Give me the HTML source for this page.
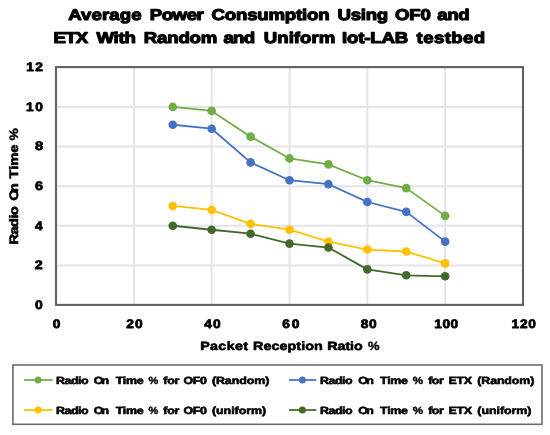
<!DOCTYPE html>
<html><head><meta charset="utf-8"><style>
html,body{margin:0;padding:0;background:#fff;width:550px;height:435px;overflow:hidden}
svg{display:block;will-change:transform}
text{font-family:"Liberation Sans",sans-serif;font-weight:bold;fill:#000;text-rendering:geometricPrecision}
</style></head><body>
<svg width="550" height="435" viewBox="0 0 550 435">
<rect width="550" height="435" fill="#fff"/>
<line x1="133.83" y1="67.1" x2="133.83" y2="304.9" stroke="#e2e4e9" stroke-width="2.0"/>
<line x1="211.67" y1="67.1" x2="211.67" y2="304.9" stroke="#e2e4e9" stroke-width="2.0"/>
<line x1="289.50" y1="67.1" x2="289.50" y2="304.9" stroke="#e2e4e9" stroke-width="2.0"/>
<line x1="367.33" y1="67.1" x2="367.33" y2="304.9" stroke="#e2e4e9" stroke-width="2.0"/>
<line x1="445.17" y1="67.1" x2="445.17" y2="304.9" stroke="#e2e4e9" stroke-width="2.0"/>
<line x1="56.0" y1="265.38" x2="523.0" y2="265.38" stroke="#e2e4e9" stroke-width="2.0"/>
<line x1="56.0" y1="225.77" x2="523.0" y2="225.77" stroke="#e2e4e9" stroke-width="2.0"/>
<line x1="56.0" y1="186.15" x2="523.0" y2="186.15" stroke="#e2e4e9" stroke-width="2.0"/>
<line x1="56.0" y1="146.53" x2="523.0" y2="146.53" stroke="#e2e4e9" stroke-width="2.0"/>
<line x1="56.0" y1="106.92" x2="523.0" y2="106.92" stroke="#e2e4e9" stroke-width="2.0"/>
<rect x="56.0" y="67.1" width="467.0" height="237.8" fill="none" stroke="#646161" stroke-width="2.1"/>
<polyline points="172.75,106.92 211.67,110.88 250.58,136.63 289.50,158.42 328.42,164.36 367.33,180.21 406.25,188.13 445.17,215.86" fill="none" stroke="#70ad47" stroke-width="1.8" stroke-linejoin="round"/>
<circle cx="172.75" cy="106.92" r="4.3" fill="#70ad47"/>
<circle cx="211.67" cy="110.88" r="4.3" fill="#70ad47"/>
<circle cx="250.58" cy="136.63" r="4.3" fill="#70ad47"/>
<circle cx="289.50" cy="158.42" r="4.3" fill="#70ad47"/>
<circle cx="328.42" cy="164.36" r="4.3" fill="#70ad47"/>
<circle cx="367.33" cy="180.21" r="4.3" fill="#70ad47"/>
<circle cx="406.25" cy="188.13" r="4.3" fill="#70ad47"/>
<circle cx="445.17" cy="215.86" r="4.3" fill="#70ad47"/>
<polyline points="172.75,124.74 211.67,128.71 250.58,162.38 289.50,180.21 328.42,184.17 367.33,202.00 406.25,211.90 445.17,241.61" fill="none" stroke="#4472c4" stroke-width="1.8" stroke-linejoin="round"/>
<circle cx="172.75" cy="124.74" r="4.3" fill="#4472c4"/>
<circle cx="211.67" cy="128.71" r="4.3" fill="#4472c4"/>
<circle cx="250.58" cy="162.38" r="4.3" fill="#4472c4"/>
<circle cx="289.50" cy="180.21" r="4.3" fill="#4472c4"/>
<circle cx="328.42" cy="184.17" r="4.3" fill="#4472c4"/>
<circle cx="367.33" cy="202.00" r="4.3" fill="#4472c4"/>
<circle cx="406.25" cy="211.90" r="4.3" fill="#4472c4"/>
<circle cx="445.17" cy="241.61" r="4.3" fill="#4472c4"/>
<polyline points="172.75,205.96 211.67,209.92 250.58,223.79 289.50,229.73 328.42,241.61 367.33,249.54 406.25,251.52 445.17,263.40" fill="none" stroke="#ffc000" stroke-width="1.8" stroke-linejoin="round"/>
<circle cx="172.75" cy="205.96" r="4.3" fill="#ffc000"/>
<circle cx="211.67" cy="209.92" r="4.3" fill="#ffc000"/>
<circle cx="250.58" cy="223.79" r="4.3" fill="#ffc000"/>
<circle cx="289.50" cy="229.73" r="4.3" fill="#ffc000"/>
<circle cx="328.42" cy="241.61" r="4.3" fill="#ffc000"/>
<circle cx="367.33" cy="249.54" r="4.3" fill="#ffc000"/>
<circle cx="406.25" cy="251.52" r="4.3" fill="#ffc000"/>
<circle cx="445.17" cy="263.40" r="4.3" fill="#ffc000"/>
<polyline points="172.75,225.77 211.67,229.73 250.58,233.69 289.50,243.59 328.42,247.56 367.33,269.35 406.25,275.29 445.17,276.28" fill="none" stroke="#43682b" stroke-width="1.8" stroke-linejoin="round"/>
<circle cx="172.75" cy="225.77" r="4.3" fill="#43682b"/>
<circle cx="211.67" cy="229.73" r="4.3" fill="#43682b"/>
<circle cx="250.58" cy="233.69" r="4.3" fill="#43682b"/>
<circle cx="289.50" cy="243.59" r="4.3" fill="#43682b"/>
<circle cx="328.42" cy="247.56" r="4.3" fill="#43682b"/>
<circle cx="367.33" cy="269.35" r="4.3" fill="#43682b"/>
<circle cx="406.25" cy="275.29" r="4.3" fill="#43682b"/>
<circle cx="445.17" cy="276.28" r="4.3" fill="#43682b"/>
<text id="y0" transform="translate(42.71,308.90) scale(1.12,1)" text-anchor="end" font-size="12.3" stroke="#000" stroke-width="0.75" stroke-linejoin="round" textLength="6.93" lengthAdjust="spacingAndGlyphs">0</text>
<text id="y2" transform="translate(42.65,269.28) scale(1.12,1)" text-anchor="end" font-size="12.3" stroke="#000" stroke-width="0.75" stroke-linejoin="round" textLength="7.11" lengthAdjust="spacingAndGlyphs">2</text>
<text id="y4" transform="translate(42.62,229.67) scale(1.12,1)" text-anchor="end" font-size="12.3" stroke="#000" stroke-width="0.75" stroke-linejoin="round" textLength="6.76" lengthAdjust="spacingAndGlyphs">4</text>
<text id="y6" transform="translate(42.96,190.05) scale(1.12,1)" text-anchor="end" font-size="12.3" stroke="#000" stroke-width="0.75" stroke-linejoin="round" textLength="7.16" lengthAdjust="spacingAndGlyphs">6</text>
<text id="y8" transform="translate(43.13,150.43) scale(1.12,1)" text-anchor="end" font-size="12.3" stroke="#000" stroke-width="0.75" stroke-linejoin="round" textLength="7.34" lengthAdjust="spacingAndGlyphs">8</text>
<text id="y10" transform="translate(42.81,110.82) scale(1.12,1)" text-anchor="end" font-size="12.3" stroke="#000" stroke-width="0.75" stroke-linejoin="round" textLength="14.95" lengthAdjust="spacing">10</text>
<text id="y12" transform="translate(43.00,71.20) scale(1.12,1)" text-anchor="end" font-size="12.3" stroke="#000" stroke-width="0.75" stroke-linejoin="round" textLength="14.91" lengthAdjust="spacing">12</text>
<text id="x0" transform="translate(56.61,328.30) scale(1.12,1)" text-anchor="middle" font-size="12.3" stroke="#000" stroke-width="0.75" stroke-linejoin="round" textLength="6.83" lengthAdjust="spacingAndGlyphs">0</text>
<text id="x20" transform="translate(134.37,328.30) scale(1.12,1)" text-anchor="middle" font-size="12.3" stroke="#000" stroke-width="0.75" stroke-linejoin="round" textLength="14.72" lengthAdjust="spacing">20</text>
<text id="x40" transform="translate(212.49,328.30) scale(1.12,1)" text-anchor="middle" font-size="12.3" stroke="#000" stroke-width="0.75" stroke-linejoin="round" textLength="14.64" lengthAdjust="spacing">40</text>
<text id="x60" transform="translate(290.78,328.30) scale(1.12,1)" text-anchor="middle" font-size="12.3" stroke="#000" stroke-width="0.75" stroke-linejoin="round" textLength="15.35" lengthAdjust="spacing">60</text>
<text id="x80" transform="translate(368.76,328.30) scale(1.12,1)" text-anchor="middle" font-size="12.3" stroke="#000" stroke-width="0.75" stroke-linejoin="round" textLength="14.14" lengthAdjust="spacing">80</text>
<text id="x100" transform="translate(446.31,328.30) scale(1.12,1)" text-anchor="middle" font-size="12.3" stroke="#000" stroke-width="0.75" stroke-linejoin="round" textLength="21.38" lengthAdjust="spacing">100</text>
<text id="x120" transform="translate(523.80,328.30) scale(1.12,1)" text-anchor="middle" font-size="12.3" stroke="#000" stroke-width="0.75" stroke-linejoin="round" textLength="21.78" lengthAdjust="spacing">120</text>
<text id="title1_0" transform="translate(68.21,20.30) scale(1.2,1)" text-anchor="start" font-size="15.5" stroke="#000" stroke-width="1.1" stroke-linejoin="round" textLength="61.08" lengthAdjust="spacing">Average</text>
<text id="title1_1" transform="translate(149.71,20.30) scale(1.2,1)" text-anchor="start" font-size="15.5" stroke="#000" stroke-width="1.1" stroke-linejoin="round" textLength="45.07" lengthAdjust="spacing">Power</text>
<text id="title1_2" transform="translate(211.55,20.30) scale(1.2,1)" text-anchor="start" font-size="15.5" stroke="#000" stroke-width="1.1" stroke-linejoin="round" textLength="98.34" lengthAdjust="spacing">Consumption</text>
<text id="title1_3" transform="translate(337.44,20.30) scale(1.2,1)" text-anchor="start" font-size="15.5" stroke="#000" stroke-width="1.1" stroke-linejoin="round" textLength="42.27" lengthAdjust="spacing">Using</text>
<text id="title1_4" transform="translate(395.01,20.30) scale(1.2,1)" text-anchor="start" font-size="15.5" stroke="#000" stroke-width="1.1" stroke-linejoin="round" textLength="29.78" lengthAdjust="spacing">OF0</text>
<text id="title1_5" transform="translate(437.16,20.30) scale(1.2,1)" text-anchor="start" font-size="15.5" stroke="#000" stroke-width="1.1" stroke-linejoin="round" textLength="27.05" lengthAdjust="spacing">and</text>
<text id="title2_0" transform="translate(53.39,43.00) scale(1.2,1)" text-anchor="start" font-size="15.5" stroke="#000" stroke-width="1.1" stroke-linejoin="round" textLength="29.07" lengthAdjust="spacing">ETX</text>
<text id="title2_1" transform="translate(96.39,43.00) scale(1.2,1)" text-anchor="start" font-size="15.5" stroke="#000" stroke-width="1.1" stroke-linejoin="round" textLength="32.92" lengthAdjust="spacing">With</text>
<text id="title2_2" transform="translate(143.73,43.00) scale(1.2,1)" text-anchor="start" font-size="15.5" stroke="#000" stroke-width="1.1" stroke-linejoin="round" textLength="61.37" lengthAdjust="spacing">Random</text>
<text id="title2_3" transform="translate(223.44,43.00) scale(1.2,1)" text-anchor="start" font-size="15.5" stroke="#000" stroke-width="1.1" stroke-linejoin="round" textLength="26.33" lengthAdjust="spacing">and</text>
<text id="title2_4" transform="translate(263.80,43.00) scale(1.2,1)" text-anchor="start" font-size="15.5" stroke="#000" stroke-width="1.1" stroke-linejoin="round" textLength="59.62" lengthAdjust="spacing">Uniform</text>
<text id="title2_5" transform="translate(342.00,43.00) scale(1.2,1)" text-anchor="start" font-size="15.5" stroke="#000" stroke-width="1.1" stroke-linejoin="round" textLength="55.15" lengthAdjust="spacing">Iot-LAB</text>
<text id="title2_6" transform="translate(416.62,43.00) scale(1.2,1)" text-anchor="start" font-size="15.5" stroke="#000" stroke-width="1.1" stroke-linejoin="round" textLength="57.09" lengthAdjust="spacing">testbed</text>
<text id="xtitle_0" transform="translate(200.17,349.90) scale(1.2,1)" text-anchor="start" font-size="11.95" stroke="#000" stroke-width="0.6" stroke-linejoin="round" textLength="39.89" lengthAdjust="spacing">Packet</text>
<text id="xtitle_1" transform="translate(253.06,349.90) scale(1.2,1)" text-anchor="start" font-size="11.95" stroke="#000" stroke-width="0.6" stroke-linejoin="round" textLength="58.15" lengthAdjust="spacing">Reception</text>
<text id="xtitle_2" transform="translate(327.31,349.90) scale(1.2,1)" text-anchor="start" font-size="11.95" stroke="#000" stroke-width="0.6" stroke-linejoin="round" textLength="29.51" lengthAdjust="spacing">Ratio</text>
<text id="xtitle_3" transform="translate(368.05,349.90) scale(1.2,1)" text-anchor="start" font-size="11.95" stroke="#000" stroke-width="0.4" stroke-linejoin="round" textLength="9.60" lengthAdjust="spacingAndGlyphs">%</text>
<text id="ytitle_0" transform="translate(17.70,244.38) rotate(-90) scale(1.2,1)" text-anchor="start" font-size="12.25" stroke="#000" stroke-width="0.6" stroke-linejoin="round" textLength="31.85" lengthAdjust="spacing">Radio</text>
<text id="ytitle_1" transform="translate(17.70,200.78) rotate(-90) scale(1.2,1)" text-anchor="start" font-size="12.25" stroke="#000" stroke-width="0.6" stroke-linejoin="round" textLength="14.52" lengthAdjust="spacing">On</text>
<text id="ytitle_2" transform="translate(17.70,178.44) rotate(-90) scale(1.2,1)" text-anchor="start" font-size="12.25" stroke="#000" stroke-width="0.6" stroke-linejoin="round" textLength="28.30" lengthAdjust="spacing">Time</text>
<text id="ytitle_3" transform="translate(17.70,140.53) rotate(-90) scale(1.2,1)" text-anchor="start" font-size="12.25" stroke="#000" stroke-width="0.4" stroke-linejoin="round" textLength="10.26" lengthAdjust="spacingAndGlyphs">%</text>
<text id="leg1_0" transform="translate(55.95,384.10) scale(1.2,1)" text-anchor="start" font-size="10.35" stroke="#000" stroke-width="0.6" stroke-linejoin="round" textLength="27.21" lengthAdjust="spacing">Radio</text>
<text id="leg1_1" transform="translate(93.75,384.10) scale(1.2,1)" text-anchor="start" font-size="10.35" stroke="#000" stroke-width="0.6" stroke-linejoin="round" textLength="12.86" lengthAdjust="spacing">On</text>
<text id="leg1_2" transform="translate(115.64,384.10) scale(1.2,1)" text-anchor="start" font-size="10.35" stroke="#000" stroke-width="0.6" stroke-linejoin="round" textLength="23.33" lengthAdjust="spacing">Time</text>
<text id="leg1_3" transform="translate(148.62,384.10) scale(1.2,1)" text-anchor="start" font-size="10.35" stroke="#000" stroke-width="0.4" stroke-linejoin="round" textLength="8.16" lengthAdjust="spacingAndGlyphs">%</text>
<text id="leg1_4" transform="translate(163.35,384.10) scale(1.2,1)" text-anchor="start" font-size="10.35" stroke="#000" stroke-width="0.6" stroke-linejoin="round" textLength="13.43" lengthAdjust="spacing">for</text>
<text id="leg1_5" transform="translate(183.60,384.10) scale(1.2,1)" text-anchor="start" font-size="10.35" stroke="#000" stroke-width="0.6" stroke-linejoin="round" textLength="19.47" lengthAdjust="spacing">OF0</text>
<text id="leg1_6" transform="translate(211.95,384.10) scale(1.2,1)" text-anchor="start" font-size="10.35" stroke="#000" stroke-width="0.6" stroke-linejoin="round" textLength="47.79" lengthAdjust="spacing">(Random)</text>
<text id="leg3_0" transform="translate(55.95,414.00) scale(1.2,1)" text-anchor="start" font-size="10.35" stroke="#000" stroke-width="0.6" stroke-linejoin="round" textLength="27.21" lengthAdjust="spacing">Radio</text>
<text id="leg3_1" transform="translate(93.75,414.00) scale(1.2,1)" text-anchor="start" font-size="10.35" stroke="#000" stroke-width="0.6" stroke-linejoin="round" textLength="12.86" lengthAdjust="spacing">On</text>
<text id="leg3_2" transform="translate(115.64,414.00) scale(1.2,1)" text-anchor="start" font-size="10.35" stroke="#000" stroke-width="0.6" stroke-linejoin="round" textLength="23.33" lengthAdjust="spacing">Time</text>
<text id="leg3_3" transform="translate(148.62,414.00) scale(1.2,1)" text-anchor="start" font-size="10.35" stroke="#000" stroke-width="0.4" stroke-linejoin="round" textLength="8.16" lengthAdjust="spacingAndGlyphs">%</text>
<text id="leg3_4" transform="translate(163.35,414.00) scale(1.2,1)" text-anchor="start" font-size="10.35" stroke="#000" stroke-width="0.6" stroke-linejoin="round" textLength="13.43" lengthAdjust="spacing">for</text>
<text id="leg3_5" transform="translate(183.60,414.00) scale(1.2,1)" text-anchor="start" font-size="10.35" stroke="#000" stroke-width="0.6" stroke-linejoin="round" textLength="19.47" lengthAdjust="spacing">OF0</text>
<text id="leg3_6" transform="translate(211.95,414.00) scale(1.2,1)" text-anchor="start" font-size="10.35" stroke="#000" stroke-width="0.6" stroke-linejoin="round" textLength="45.25" lengthAdjust="spacing">(uniform)</text>
<text id="leg2_0" transform="translate(320.06,384.10) scale(1.2,1)" text-anchor="start" font-size="10.35" stroke="#000" stroke-width="0.6" stroke-linejoin="round" textLength="27.13" lengthAdjust="spacing">Radio</text>
<text id="leg2_1" transform="translate(358.33,384.10) scale(1.2,1)" text-anchor="start" font-size="10.35" stroke="#000" stroke-width="0.6" stroke-linejoin="round" textLength="12.92" lengthAdjust="spacing">On</text>
<text id="leg2_2" transform="translate(380.12,384.10) scale(1.2,1)" text-anchor="start" font-size="10.35" stroke="#000" stroke-width="0.6" stroke-linejoin="round" textLength="23.18" lengthAdjust="spacing">Time</text>
<text id="leg2_3" transform="translate(412.83,384.10) scale(1.2,1)" text-anchor="start" font-size="10.35" stroke="#000" stroke-width="0.4" stroke-linejoin="round" textLength="8.64" lengthAdjust="spacingAndGlyphs">%</text>
<text id="leg2_4" transform="translate(428.13,384.10) scale(1.2,1)" text-anchor="start" font-size="10.35" stroke="#000" stroke-width="0.6" stroke-linejoin="round" textLength="13.09" lengthAdjust="spacing">for</text>
<text id="leg2_5" transform="translate(448.38,384.10) scale(1.2,1)" text-anchor="start" font-size="10.35" stroke="#000" stroke-width="0.6" stroke-linejoin="round" textLength="19.79" lengthAdjust="spacing">ETX</text>
<text id="leg2_6" transform="translate(477.36,384.10) scale(1.2,1)" text-anchor="start" font-size="10.35" stroke="#000" stroke-width="0.6" stroke-linejoin="round" textLength="47.44" lengthAdjust="spacing">(Random)</text>
<text id="leg4_0" transform="translate(320.06,414.00) scale(1.2,1)" text-anchor="start" font-size="10.35" stroke="#000" stroke-width="0.6" stroke-linejoin="round" textLength="27.13" lengthAdjust="spacing">Radio</text>
<text id="leg4_1" transform="translate(358.33,414.00) scale(1.2,1)" text-anchor="start" font-size="10.35" stroke="#000" stroke-width="0.6" stroke-linejoin="round" textLength="12.92" lengthAdjust="spacing">On</text>
<text id="leg4_2" transform="translate(380.12,414.00) scale(1.2,1)" text-anchor="start" font-size="10.35" stroke="#000" stroke-width="0.6" stroke-linejoin="round" textLength="23.18" lengthAdjust="spacing">Time</text>
<text id="leg4_3" transform="translate(412.83,414.00) scale(1.2,1)" text-anchor="start" font-size="10.35" stroke="#000" stroke-width="0.4" stroke-linejoin="round" textLength="8.64" lengthAdjust="spacingAndGlyphs">%</text>
<text id="leg4_4" transform="translate(428.13,414.00) scale(1.2,1)" text-anchor="start" font-size="10.35" stroke="#000" stroke-width="0.6" stroke-linejoin="round" textLength="13.09" lengthAdjust="spacing">for</text>
<text id="leg4_5" transform="translate(448.38,414.00) scale(1.2,1)" text-anchor="start" font-size="10.35" stroke="#000" stroke-width="0.6" stroke-linejoin="round" textLength="19.79" lengthAdjust="spacing">ETX</text>
<text id="leg4_6" transform="translate(477.36,414.00) scale(1.2,1)" text-anchor="start" font-size="10.35" stroke="#000" stroke-width="0.6" stroke-linejoin="round" textLength="45.06" lengthAdjust="spacing">(uniform)</text>
<rect x="12.9" y="365.0" width="529.1" height="59.3" fill="none" stroke="#6e6b6b" stroke-width="1.6"/>
<line x1="24" y1="380" x2="52.7" y2="380" stroke="#70ad47" stroke-width="1.75"/>
<circle cx="38.1" cy="380" r="3.5" fill="#70ad47"/>
<line x1="289" y1="380" x2="316.4" y2="380" stroke="#4472c4" stroke-width="1.75"/>
<circle cx="302.4" cy="380" r="3.5" fill="#4472c4"/>
<line x1="24" y1="410" x2="52.7" y2="410" stroke="#ffc000" stroke-width="1.75"/>
<circle cx="38.1" cy="410" r="3.5" fill="#ffc000"/>
<line x1="289" y1="410" x2="316.4" y2="410" stroke="#43682b" stroke-width="1.75"/>
<circle cx="302.4" cy="410" r="3.5" fill="#43682b"/>
</svg>
</body></html>
